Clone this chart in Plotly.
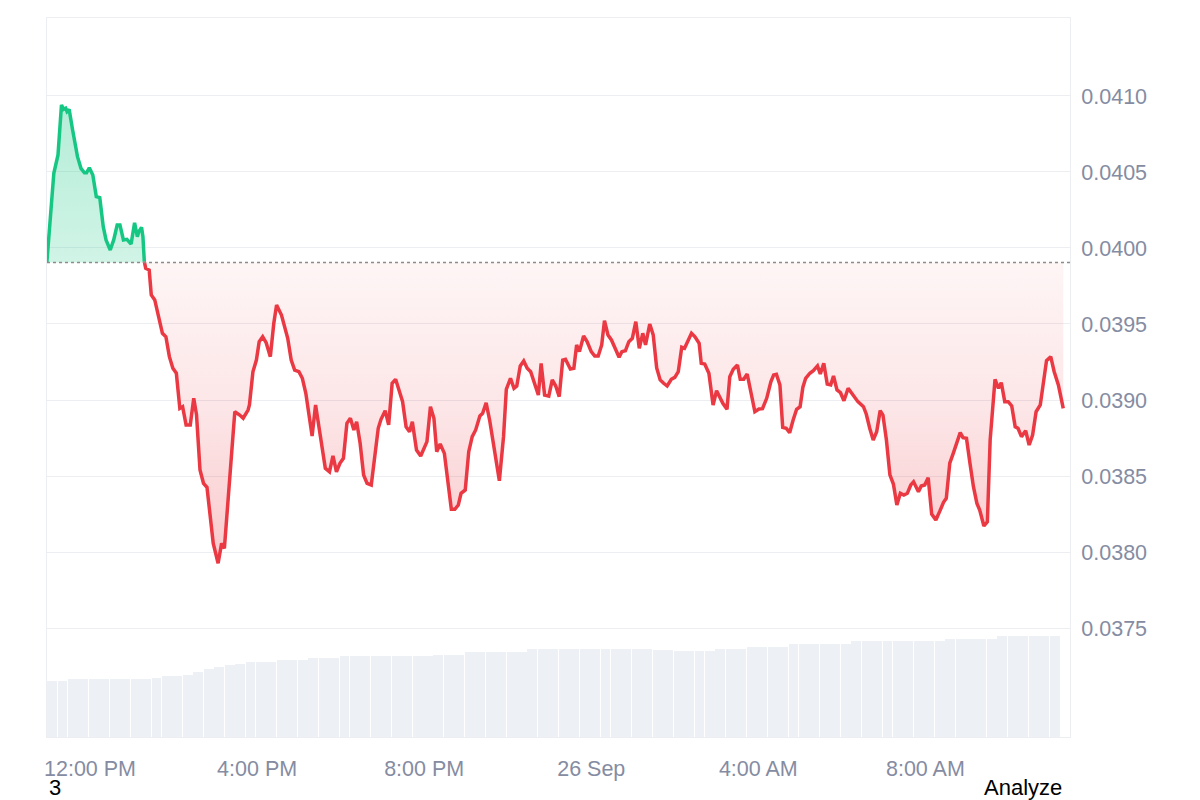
import datetime as dt
import plotly.graph_objects as go

# ---------------- data ----------------
BASE_TIME = dt.datetime(2024, 9, 25, 12, 0)   # 12:00 PM, 25 Sep
BASELINE = 0.039905                            # opening price (dotted reference)

# minutes relative to 12:00 PM 25 Sep
minutes = [-62, -58, -52, -46, -41, -38, -35, -33, -30, -25, -18, -13, -8, -5, -1, 4, 9, 14, 19, 23,
           29, 34, 39, 43, 48, 53, 59, 64, 68, 70, 74, 76, 78,
           80, 85, 88, 93, 97, 104, 109, 114, 119, 124, 129, 133, 138, 144, 149, 153, 158, 163, 168, 173,
           177, 184, 189, 193, 208, 215, 220, 227, 229, 234, 239, 243, 248, 253, 259, 264, 268, 275, 280,
           284, 289, 294, 300, 305, 310, 314, 319, 324, 329, 334, 338, 344, 349, 354, 359, 364, 369, 374,
           379, 383, 388, 393, 398, 404, 409, 414, 418, 424, 429, 434, 439, 444, 449, 454, 459, 463, 469,
           475, 479, 484, 489, 494, 498, 503, 509, 514, 519, 524, 529, 533, 539, 544, 549, 554, 560, 564,
           569, 574, 579, 584, 588, 594, 598, 604, 609, 613, 618, 623, 628, 633, 637, 644, 648, 653, 659,
           664, 669, 674, 679, 683, 690, 695, 699, 703, 709, 714, 720, 725, 730, 735, 739, 744, 749, 754,
           760, 764, 769, 774, 779, 784, 789, 794, 798, 804, 809, 814, 819, 824, 829, 835, 840, 845, 850,
           854, 859, 864, 869, 875, 878, 883, 889, 895, 900, 905, 909, 915, 919, 924, 930, 934, 939, 944,
           949, 955, 961, 966, 972, 978, 982, 986, 991, 995, 1000, 1005, 1010, 1015, 1020, 1024, 1028,
           1034, 1039, 1045, 1049, 1054, 1059, 1064, 1068, 1073, 1078, 1083, 1089, 1094, 1099, 1103,
           1111, 1115, 1120, 1125, 1130, 1135, 1139, 1144, 1149, 1154, 1159, 1164, 1169, 1174, 1179,
           1183, 1190, 1194, 1199, 1204, 1209, 1215, 1221, 1226, 1230, 1235, 1240, 1245, 1250, 1254,
           1259, 1264, 1269, 1274, 1278, 1284, 1289, 1293, 1297, 1300, 1305, 1309, 1314, 1319, 1324,
           1329, 1333, 1338, 1344, 1349, 1354, 1359, 1365, 1369, 1374, 1380, 1385, 1391, 1398]

price = [0.039905, 0.040140, 0.040491, 0.040612, 0.040941, 0.040912, 0.040919, 0.040897, 0.040912, 0.040776,
         0.040601, 0.040524, 0.040495, 0.040495, 0.040528, 0.040480, 0.040338, 0.040331, 0.040140, 0.040053,
         0.039987, 0.040053, 0.040151, 0.040151, 0.040053, 0.040057, 0.040026, 0.040166, 0.040074, 0.040107,
         0.040136, 0.040074, 0.039910,
         0.039866, 0.039855, 0.039691, 0.039658, 0.039570, 0.039439, 0.039416, 0.039285, 0.039209, 0.039176,
         0.038945, 0.038956, 0.038836, 0.038836, 0.039011, 0.038901, 0.038539, 0.038452, 0.038426, 0.038211,
         0.038057, 0.037926, 0.038057, 0.038024, 0.038923, 0.038901, 0.038880, 0.038934, 0.038967, 0.039186,
         0.039263, 0.039384, 0.039416, 0.039377, 0.039285, 0.039505, 0.039625, 0.039559, 0.039461, 0.039406,
         0.039263, 0.039197, 0.039186, 0.039143, 0.039044, 0.038934, 0.038763, 0.038967, 0.038824, 0.038649,
         0.038551, 0.038528, 0.038632, 0.038528, 0.038584, 0.038616, 0.038847, 0.038880, 0.038803, 0.038857,
         0.038715, 0.038507, 0.038452, 0.038441, 0.038627, 0.038814, 0.038873, 0.038930, 0.038836, 0.039110,
         0.039136, 0.039055, 0.038989, 0.038824, 0.038791, 0.038857, 0.038671, 0.038632, 0.038676, 0.038726,
         0.038956, 0.038880, 0.038660, 0.038711, 0.038649, 0.038474, 0.038281, 0.038281, 0.038309, 0.038386,
         0.038408, 0.038660, 0.038759, 0.038803, 0.038895, 0.038913, 0.038982, 0.038868, 0.038737, 0.038605,
         0.038469, 0.038759, 0.039070, 0.039143, 0.039077, 0.039092, 0.039224, 0.039257, 0.039209, 0.039186,
         0.039132, 0.039033, 0.039241, 0.039033, 0.039026, 0.039132, 0.039092, 0.039022, 0.039263, 0.039268,
         0.039204, 0.039209, 0.039362, 0.039318, 0.039421, 0.039384, 0.039318, 0.039289, 0.039289, 0.039362,
         0.039522, 0.039428, 0.039395, 0.039340, 0.039281, 0.039318, 0.039324, 0.039384, 0.039406, 0.039515,
         0.039340, 0.039439, 0.039362, 0.039500, 0.039428, 0.039211, 0.039132, 0.039110, 0.039092, 0.039136,
         0.039149, 0.039186, 0.039347, 0.039340, 0.039395, 0.039439, 0.039416, 0.039373, 0.039241, 0.039237,
         0.039176, 0.038967, 0.039061, 0.039011, 0.038978, 0.038939, 0.039153, 0.039202, 0.039230, 0.039136,
         0.039136, 0.039171, 0.039066, 0.038923, 0.038941, 0.038943, 0.039011, 0.039120, 0.039164, 0.039169,
         0.039099, 0.038820, 0.038814, 0.038785, 0.038868, 0.038939, 0.038956, 0.039084, 0.039143, 0.039176,
         0.039193, 0.039224, 0.039171, 0.039241, 0.039105, 0.039099, 0.039158, 0.039066, 0.039048, 0.038995,
         0.039077, 0.039048, 0.039018, 0.038989, 0.038956, 0.038908, 0.038814, 0.038737, 0.038791, 0.038930,
         0.038901, 0.038737, 0.038507, 0.038447, 0.038309, 0.038386, 0.038375, 0.038386, 0.038441, 0.038462,
         0.038397, 0.038434, 0.038441, 0.038489, 0.038250, 0.038211, 0.038272, 0.038327, 0.038353, 0.038584,
         0.038649, 0.038726, 0.038785, 0.038752, 0.038748, 0.038584, 0.038430, 0.038320, 0.038276, 0.038171,
         0.038199, 0.038737, 0.039000, 0.039136, 0.039077, 0.039114, 0.038989, 0.038989, 0.038961, 0.038824,
         0.038814, 0.038759, 0.038798, 0.038704, 0.038770, 0.038923, 0.038967, 0.039088, 0.039259, 0.039285,
         0.039186, 0.039099, 0.038945]

assert len(minutes) == len(price)
CROSS_INDEX = 32   # last point above the opening price

# 24h volume, one bar per 15 minutes (millions, arbitrary units)
VOLUME_START_MIN = -62
VOLUME_STEP_MIN = 15
volume = [5.6, 5.6, 5.8, 5.8, 5.8, 5.8, 5.8, 5.8, 5.8, 5.8, 5.9, 6.1, 6.1, 6.2, 6.5, 6.8, 7.0, 7.2, 7.3,
          7.5, 7.5, 7.5, 7.7, 7.7, 7.7, 7.9, 7.9, 7.9, 8.1, 8.1, 8.1, 8.1, 8.1, 8.1, 8.1, 8.1, 8.1,
          8.2, 8.2, 8.2, 8.5, 8.5, 8.5, 8.5, 8.5, 8.5, 8.8, 8.8, 8.8, 8.8, 8.8, 8.8, 8.8, 8.8, 8.8,
          8.8, 8.8, 8.8, 8.7, 8.7, 8.6, 8.6, 8.6, 8.6, 8.8, 8.8, 8.8, 9.0, 9.0, 9.0, 9.0, 9.3, 9.3,
          9.3, 9.3, 9.3, 9.3, 9.6, 9.6, 9.6, 9.6, 9.6, 9.6, 9.6, 9.6, 9.6, 9.8, 9.8, 9.8, 9.8, 9.8,
          10.1, 10.1, 10.1, 10.1, 10.1, 10.1]

tick_hours = [0, 4, 8, 12, 16, 20]
tick_text = ["12:00 PM", "4:00 PM", "8:00 PM", "26 Sep", "4:00 AM", "8:00 AM"]
price_ticks = [0.0375, 0.0380, 0.0385, 0.0390, 0.0395, 0.0400, 0.0405, 0.0410]

X_RANGE_MIN = (-61.8, 1407.7)
Y_RANGE = (0.036783, 0.041513)

# ---------------- build ----------------
times = [BASE_TIME + dt.timedelta(minutes=m) for m in minutes]
g_t, g_p = times[:CROSS_INDEX + 1], price[:CROSS_INDEX + 1]
r_t, r_p = times[CROSS_INDEX:], price[CROSS_INDEX:]

bar_times = [BASE_TIME + dt.timedelta(minutes=VOLUME_START_MIN + VOLUME_STEP_MIN * (i + 0.5))
             for i in range(len(volume))]

GREEN = "#16c784"
RED = "#ea3943"
TICK_COLOR = "#858ca2"
GRID = "#eceef1"
FONT = "Liberation Sans, Arial, sans-serif"

fig = go.Figure()

fig.add_trace(go.Bar(
    x=bar_times, y=volume, yaxis="y2",
    width=VOLUME_STEP_MIN * 60 * 1000 * 0.95,
    marker=dict(color="#edf0f4", line=dict(width=0)),
    hoverinfo="skip", showlegend=False,
))

# green fill (above opening price)
fig.add_trace(go.Scatter(
    x=g_t + [g_t[-1], g_t[0]], y=g_p + [BASELINE, BASELINE],
    fill="toself", mode="none", hoverinfo="skip", showlegend=False,
    fillgradient=dict(type="vertical", start=BASELINE, stop=max(g_p),
                      colorscale=[[0, "rgba(22,199,132,0.20)"], [1, "rgba(22,199,132,0.32)"]]),
))
# red fill (below opening price)
fig.add_trace(go.Scatter(
    x=r_t + [r_t[-1], r_t[0]], y=r_p + [BASELINE, BASELINE],
    fill="toself", mode="none", hoverinfo="skip", showlegend=False,
    fillgradient=dict(type="vertical", start=min(r_p), stop=BASELINE,
                      colorscale=[[0, "rgba(234,57,67,0.27)"], [0.5, "rgba(234,57,67,0.13)"],
                                  [1, "rgba(234,57,67,0.05)"]]),
))

fig.add_trace(go.Scatter(x=g_t, y=g_p, mode="lines", line=dict(color=GREEN, width=3.5),
                         hoverinfo="skip", showlegend=False))
fig.add_trace(go.Scatter(x=r_t, y=r_p, mode="lines", line=dict(color=RED, width=3.5),
                         hoverinfo="skip", showlegend=False))

fig.add_shape(type="line", xref="paper", x0=0, x1=1, yref="y", y0=BASELINE, y1=BASELINE,
              line=dict(color="#8c8c8c", width=1.5, dash="dot"), layer="above")

x_range = [BASE_TIME + dt.timedelta(minutes=X_RANGE_MIN[0]), BASE_TIME + dt.timedelta(minutes=X_RANGE_MIN[1])]
tick_vals = [BASE_TIME + dt.timedelta(hours=h) for h in tick_hours]

fig.update_layout(
    width=1200, height=800,
    margin=dict(l=47, r=130, t=18, b=63),
    paper_bgcolor="white", plot_bgcolor="white",
    font=dict(family=FONT),
    showlegend=False,
    bargap=0,
    xaxis=dict(type="date", range=x_range, tickvals=tick_vals, ticktext=tick_text,
               showgrid=False, zeroline=False, showline=True, linecolor=GRID, linewidth=1, mirror=True,
               ticks="", tickfont=dict(size=21.5, color=TICK_COLOR, family=FONT),
               ticklabelstandoff=12, fixedrange=True),
    yaxis=dict(range=list(Y_RANGE), side="right", tickvals=price_ticks, tickformat=".4f",
               showgrid=True, gridcolor=GRID, gridwidth=1, zeroline=False,
               showline=True, linecolor=GRID, linewidth=1, mirror=True,
               ticks="", tickfont=dict(size=21.5, color=TICK_COLOR, family=FONT),
               ticklabelstandoff=6, fixedrange=True),
    yaxis2=dict(range=[0, 71.9], overlaying="y", visible=False, fixedrange=True),
    annotations=[
        dict(text="3", xref="paper", yref="paper", x=0.0078, y=-0.0709, xanchor="center", yanchor="middle",
             showarrow=False, font=dict(size=22, color="black", family=FONT)),
        dict(text="Analyze", xref="paper", yref="paper", x=0.9545, y=-0.0709, xanchor="center",
             yanchor="middle", showarrow=False, font=dict(size=22, color="black", family=FONT)),
    ],
)

fig.write_html("out.html", config={"displayModeBar": False},
               post_script="document.body.style.margin='0';document.body.style.overflow='hidden';")
